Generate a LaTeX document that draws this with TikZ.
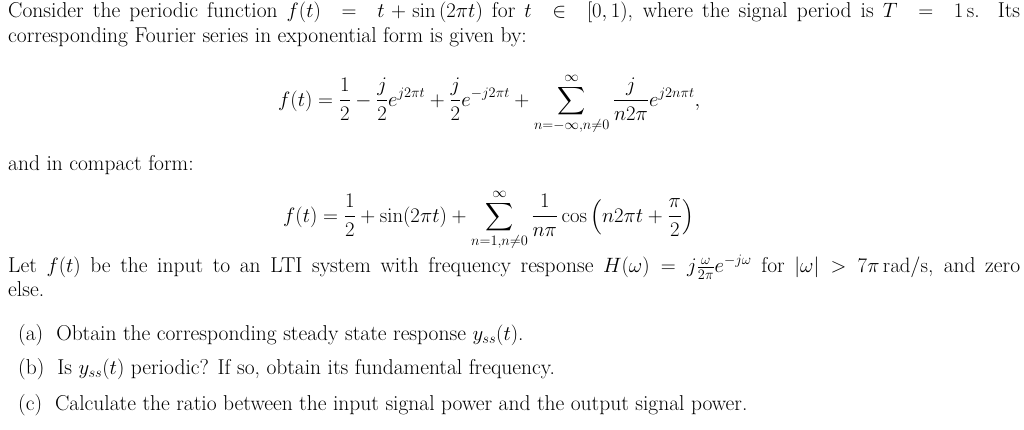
\documentclass[tikz,border=0pt]{standalone}
\usepackage{amsmath,amssymb}
\begin{document}
\begin{tikzpicture}[x=1pt,y=1pt,txt/.style={anchor=base west,inner sep=0pt,font=\fontsize{21.5}{24.5}\selectfont}]
\useasboundingbox (0,0) rectangle (1024,-429);
\node[txt,anchor=north west,text width=1012pt,align=justify] (p1) at (8,-2) {Consider the periodic function $f(t)\;=\;t+\sin{(2\pi t)}$ for $t\;\in\;[0,1)$, where the signal period is $T\;=\;1\,\mathrm{s}$.\ \ Its\linebreak corresponding Fourier series in exponential form is given by:};
\node[txt,font=\fontsize{19.5}{24}\selectfont] (e1) at (278,-106) {$\displaystyle f(t)=\frac{1}{2}-\frac{j}{2}e^{j2\pi t}+\frac{j}{2}e^{-j2\pi t}+\sum_{n=-\infty,n\neq0}^{\infty}\frac{j}{n2\pi}e^{j2n\pi t},$};
\node[txt] (p2) at (8,-170) {and in compact form:};
\node[txt,font=\fontsize{19.5}{24}\selectfont] (e2) at (283,-222) {$\displaystyle f(t)=\frac{1}{2}+\sin(2\pi t)+\sum_{n=1,n\neq0}^{\infty}\frac{1}{n\pi}\cos\left(n2\pi t+\frac{\pi}{2}\right)$};
\node[txt,anchor=north west,text width=1012pt,align=justify] (p3) at (8,-255) {Let $f(t)$ be the input to an LTI system with frequency response $H(\omega)=j\frac{\omega}{2\pi}e^{-j\omega}$ for $|\omega|>7\pi\,\mathrm{rad/s}$, and zero\linebreak else.};
\node[txt] (a) at (18,-340) {(a)\ \ Obtain the corresponding steady state response $y_{ss}(t)$.};
\node[txt] (b) at (18,-374) {(b)\ \ Is $y_{ss}(t)$ periodic? If so, obtain its fundamental frequency.};
\node[txt] (c) at (18,-410) {(c)\ \ Calculate the ratio between the input signal power and the output signal power.};
\end{tikzpicture}
\end{document}
